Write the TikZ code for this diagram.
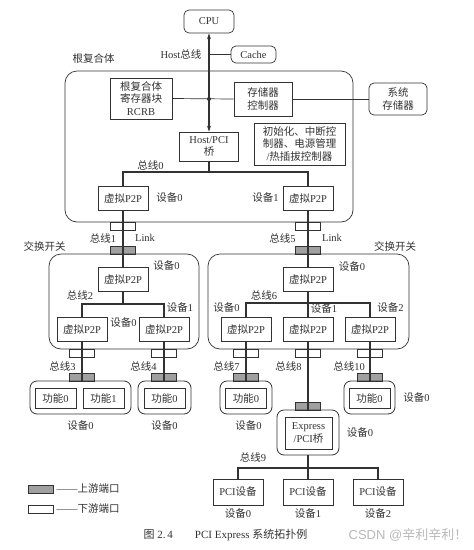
\documentclass[tikz,border=0pt]{standalone}
\usepackage{fontspec}
\setmainfont{Liberation Serif}
\newfontfamily\zhfont{Noto Sans CJK SC}
\newfontfamily\wmfont{Liberation Sans}
\newcommand\zh[1]{{\zhfont #1}}
\newcommand\fs{\fontsize{10.5}{12.5}\selectfont}
\usetikzlibrary{arrows.meta}
\definecolor{ink}{RGB}{50,50,50}
\definecolor{portgray}{RGB}{160,160,160}
\tikzset{
  box/.style={draw=ink, line width=0.7pt, text=ink, align=center, inner sep=1pt, font=\fs},
  rbox/.style={box, rounded corners=5pt},
  lbl/.style={text=ink, inner sep=0pt, font=\fs},
  frame/.style={draw=ink, line width=0.7pt, rounded corners=12pt},
  p2pbox/.style={box, minimum width=50pt, minimum height=24pt},
  funcbox/.style={box, minimum width=41pt, minimum height=20pt},
  devbox/.style={draw=ink, line width=0.8pt, rounded corners=7pt, minimum height=33pt, inner sep=0pt},
  uport/.style={draw=ink, fill=portgray, line width=0.6pt, minimum width=25pt, minimum height=8pt, inner sep=0pt},
  dport/.style={uport, fill=white},
  wire/.style={draw=ink, line width=1.1pt},
  thinwire/.style={draw=ink, line width=0.7pt}
}
\begin{document}
\begin{tikzpicture}[x=1pt, y=-1pt]
\useasboundingbox (0,0) rectangle (474,550);

\node[rbox, minimum width=50pt, minimum height=23pt] (cpu) at (209,21.5) {CPU};
\node[rbox, minimum width=45pt, minimum height=17pt] (cache) at (253.5,54.5) {Cache};
\node[lbl] (hostbus) at (181,54) {Host\zh{总线}};
\node[lbl] (rclabel) at (93.5,58) {\zh{根复合体}};
\draw[frame] (65,71) rectangle (353,222);
\node[box, minimum width=62pt, minimum height=41pt] (rcrb) at (141,98.5) {\zh{根复合体}\\\zh{寄存器块}\\RCRB};
\node[box, minimum width=58pt, minimum height=34pt] (memctl) at (263,99) {\zh{存储器}\\\zh{控制器}};
\node[rbox, minimum width=58pt, minimum height=32pt] (sysmem) at (398,99) {\zh{系统}\\\zh{存储器}};
\node[box, minimum width=91pt, minimum height=42pt] (initctl) at (299.5,144) {\zh{初始化、中断控}\\\zh{制器、电源管理}\\/\zh{热插拔控制器}};
\node[box, minimum width=59pt, minimum height=29pt] (hostpci) at (209,146.5) {Host/PCI\\\zh{桥}};
\node[lbl] (bus0lbl) at (150.5,165) {\zh{总线}0};
\node[p2pbox] (p2p0) at (123,198) {\zh{虚拟}P2P};
\node[p2pbox] (p2p1) at (308,198) {\zh{虚拟}P2P};
\node[lbl] at (169.5,198) {\zh{设备}0};
\node[lbl] at (265.5,198) {\zh{设备}1};
\node[dport] (dp0) at (123,226.5) {};
\node[dport] (dp1) at (308,226.5) {};
\node[lbl] at (103,238) {\zh{总线}1};
\node[lbl] at (145,238) {Link};
\node[lbl] at (282.5,238) {\zh{总线}5};
\node[lbl] at (332,238) {Link};
\node[lbl] at (44.5,246) {\zh{交换开关}};
\node[lbl] at (395,246) {\zh{交换开关}};
\node[uport] (up0) at (123,250) {};
\node[uport] (up1) at (308,250) {};

\draw[frame] (49,254) rectangle (199,349);
\node[p2pbox] (swl) at (123,279.5) {\zh{虚拟}P2P};
\node[lbl] at (166.5,266) {\zh{设备}0};
\node[lbl] at (80,295) {\zh{总线}2};
\node[lbl] at (180,308) {\zh{设备}1};
\node[lbl] at (123.5,323) {\zh{设备}0};
\node[p2pbox] (swla) at (82,329) {\zh{虚拟}P2P};
\node[p2pbox] (swlb) at (164,329) {\zh{虚拟}P2P};
\node[dport] (dpa) at (82,353) {};
\node[dport] (dpb) at (164,353) {};
\node[lbl] at (62.5,366) {\zh{总线}3};
\node[lbl] at (143.5,366) {\zh{总线}4};
\node[uport] (upa) at (82,377) {};
\node[uport] (upb) at (164,377) {};
\node[devbox, minimum width=101pt] (deva) at (80.5,397.5) {};
\node[funcbox] at (55.5,398) {\zh{功能}0};
\node[funcbox] at (103.5,398) {\zh{功能}1};
\node[devbox, minimum width=53pt] (devb) at (164.5,397.5) {};
\node[funcbox] at (164.5,398) {\zh{功能}0};
\node[lbl] at (80.5,426) {\zh{设备}0};
\node[lbl] at (164.5,426) {\zh{设备}0};

\draw[frame] (208,254) rectangle (409,349);
\node[p2pbox] (swr) at (308,279.5) {\zh{虚拟}P2P};
\node[lbl] at (352,267) {\zh{设备}0};
\node[lbl] at (264,295) {\zh{总线}6};
\node[lbl] at (226.5,308) {\zh{设备}0};
\node[lbl] at (324,309) {\zh{设备}1};
\node[lbl] at (390.5,308) {\zh{设备}2};
\node[p2pbox] (swra) at (246,329) {\zh{虚拟}P2P};
\node[p2pbox] (swrb) at (308,329) {\zh{虚拟}P2P};
\node[p2pbox] (swrc) at (370,329) {\zh{虚拟}P2P};
\node[dport] (dpra) at (246,353) {};
\node[dport] (dprb) at (308,353) {};
\node[dport] (dprc) at (370,353) {};
\node[lbl] at (226.5,366) {\zh{总线}7};
\node[lbl] at (288.5,366) {\zh{总线}8};
\node[lbl] at (349,366) {\zh{总线}10};
\node[uport] (upra) at (246,377) {};
\node[uport] (uprc) at (370,377) {};
\node[devbox, minimum width=52pt] (devc) at (246,397.5) {};
\node[funcbox] at (246,398) {\zh{功能}0};
\node[devbox, minimum width=51pt] (devd) at (369.5,397.5) {};
\node[funcbox] at (369.5,398) {\zh{功能}0};
\node[lbl] at (248.5,426) {\zh{设备}0};
\node[lbl] at (416.5,398) {\zh{设备}0};

\node[uport] (uprb) at (308,406) {};
\node[devbox, minimum width=62pt, minimum height=45pt] (bridgeout) at (308,432.5) {};
\node[box, minimum width=47pt, minimum height=32pt] (bridge) at (308.5,433) {Express\\/PCI\zh{桥}};
\node[lbl] at (360,433) {\zh{设备}0};
\node[lbl] at (253,457) {\zh{总线}9};
\foreach \i/\x in {0/238,1/308,2/378} {
  \node[box, minimum width=50pt, minimum height=26pt] (pci\i) at (\x,492) {PCI\zh{设备}};
  \node[lbl] at (\x,514) {\zh{设备}\i};
}

\node[uport] (lgup) at (40.5,489) {};
\node[lbl, anchor=west, xshift=3pt] at (lgup.east) {——\zh{上游端口}};
\node[dport] (lgdown) at (40.5,509) {};
\node[lbl, anchor=west, xshift=3pt] at (lgdown.east) {——\zh{下游端口}};
\node[lbl, font=\fontsize{11}{13}\selectfont] (caption) at (225.5,535) {\zh{图}\ 2.\,4\qquad PCI Express\ \zh{系统拓扑例}};
\node[inner sep=0pt, text=black!28, font=\wmfont\fontsize{13}{15}\selectfont] at (408,535) {CSDN @\zh{辛利辛利！}};

\coordinate (hub) at (209,99);
\coordinate (cachetap) at (209,54.5);
\coordinate (bus0) at (209,172);
\coordinate (bus2) at (123,304);
\coordinate (bus6) at (308,303);
\coordinate (bus9) at (308,468);
\draw[wire, {Stealth[length=6pt,width=4pt]}-{Stealth[length=6pt,width=4pt]}] (cpu.south) -- (hostpci.north);
\draw[thinwire] (cachetap) -- (cache.west);
\draw[thinwire] (rcrb.east) -- (memctl.west);
\draw[thinwire] (memctl.east) -- (sysmem.west);
\fill[ink] (hub) circle (2pt);
\draw[wire] (hostpci.south) -- (bus0);
\draw[wire] (p2p0.north) |- (bus0) -| (p2p1.north);
\draw[wire] (p2p0.south) -- (swl.north);
\draw[wire] (p2p1.south) -- (swr.north);
\draw[wire] (swl.south) -- (bus2);
\draw[wire] (swla.north) |- (bus2) -| (swlb.north);
\draw[wire] (swla.south) -- (deva.north -| swla.south);
\draw[wire] (swlb.south) -- (devb.north -| swlb.south);
\draw[wire] (swr.south) -- (swrb.north);
\draw[wire] (swra.north) |- (bus6) -| (swrc.north);
\draw[wire] (swra.south) -- (devc.north);
\draw[wire] (swrb.south) -- (bridgeout.north);
\draw[wire] (swrc.south) -- (devd.north -| swrc.south);
\draw[wire] (bridgeout.south) -- (pci1.north);
\draw[wire] (pci0.north) |- (bus9) -| (pci2.north);
\end{tikzpicture}
\end{document}
